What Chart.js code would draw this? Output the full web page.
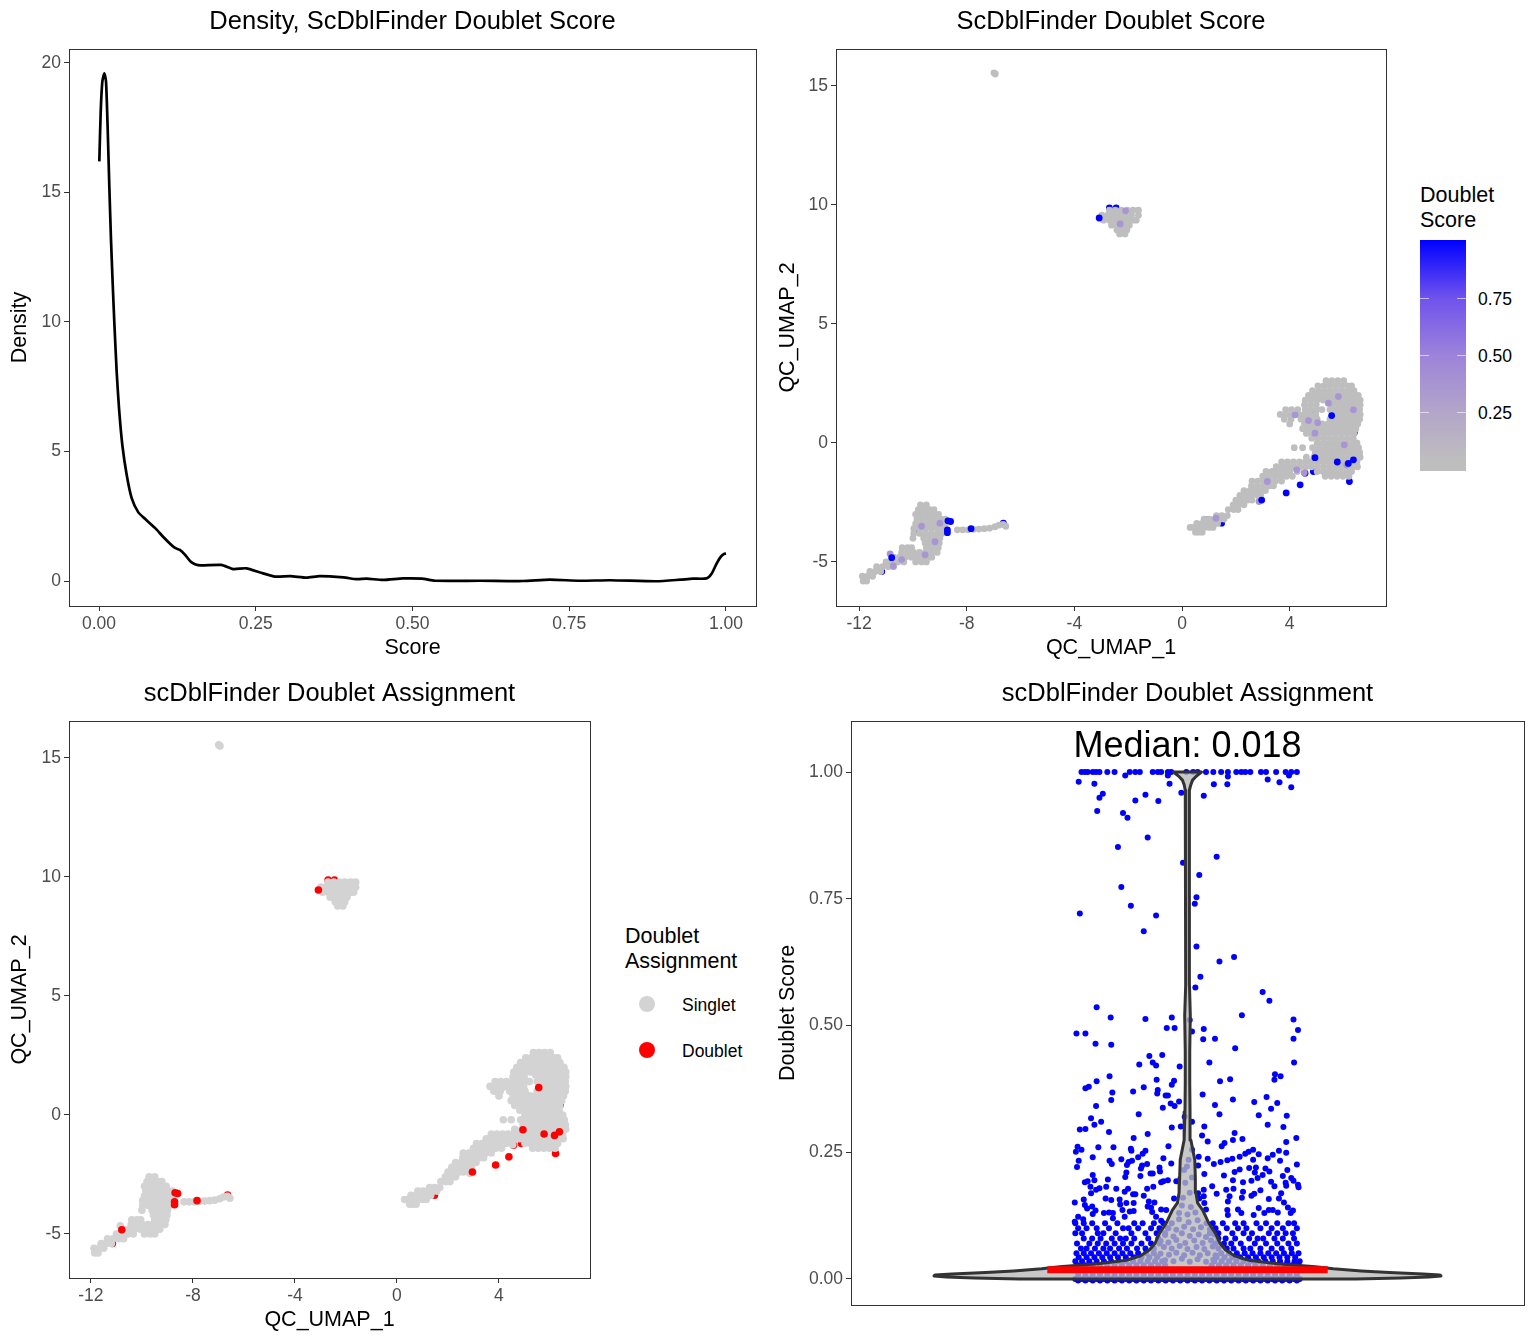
<!DOCTYPE html>
<html>
<head>
<meta charset="utf-8">
<script src="https://cdn.jsdelivr.net/npm/chart.js@4"></script>
<style>
  body { margin: 0; background: #fff; font-family: "Liberation Sans", Arial, sans-serif; }
  #page { position: relative; width: 1536px; height: 1344px; overflow: hidden; }
  canvas { position: absolute; }
  .txt { position: absolute; color: #000; white-space: nowrap; }
  .tickmark { position: absolute; height: 1px; width: 9px; background: rgba(255,255,255,0.6); }
</style>
</head>
<body>
<div id="page">
  <canvas id="c1" style="left:0;top:0"></canvas>
  <canvas id="c2" style="left:768px;top:0"></canvas>
  <canvas id="c3" style="left:0;top:672px"></canvas>
  <canvas id="c4" style="left:768px;top:672px"></canvas>

  <div class="txt" style="left:1420px;top:183px;font-size:21.5px;line-height:24.5px">Doublet<br>Score</div>
  <div style="position:absolute;left:1420px;top:240px;width:46px;height:231px;background:linear-gradient(to top,#bebebe 0%,#bebebe 4%,#b3a6c9 25%,#9d83da 50%,#6f52ec 75%,#0000ff 100%)"></div>
  <div class="tickmark" style="left:1420px;top:298px"></div><div class="tickmark" style="left:1457px;top:298px"></div>
  <div class="tickmark" style="left:1420px;top:355px"></div><div class="tickmark" style="left:1457px;top:355px"></div>
  <div class="tickmark" style="left:1420px;top:412px"></div><div class="tickmark" style="left:1457px;top:412px"></div>
  <div class="txt" style="left:1478px;top:289px;font-size:17.5px">0.75</div>
  <div class="txt" style="left:1478px;top:346px;font-size:17.5px">0.50</div>
  <div class="txt" style="left:1478px;top:403px;font-size:17.5px">0.25</div>

  <div class="txt" style="left:625px;top:924px;font-size:21.5px;line-height:24.5px">Doublet<br>Assignment</div>
  <div style="position:absolute;left:639px;top:996px;width:16px;height:16px;border-radius:50%;background:#d3d3d3"></div>
  <div style="position:absolute;left:639px;top:1042px;width:16px;height:16px;border-radius:50%;background:#ff0000"></div>
  <div class="txt" style="left:682px;top:995px;font-size:17.5px">Singlet</div>
  <div class="txt" style="left:682px;top:1041px;font-size:17.5px">Doublet</div>
</div>

<script>
// density panel
const densityScore = [0.0005,0.0027,0.0053,0.0085,0.0112,0.0138,0.0165,0.0191,0.0218,0.0244,0.0282,0.0319,0.0372,0.0442,0.0521,0.0627,0.0734,0.0893,0.1026,0.1159,0.122,0.129,0.137,0.146,0.153,0.162,0.195,0.214,0.235,0.257,0.281,0.305,0.331,0.352,0.39,0.411,0.427,0.453,0.485,0.515,0.536,0.608,0.676,0.719,0.767,0.815,0.889,0.927,0.947,0.969,0.977,0.985,0.9915,0.997,1.0];
const densityValue = [16.2,18.1,19.28,19.6,19.28,17.5,15.2,13.2,11.5,10,8.07,6.68,5.25,4.09,3.2,2.65,2.4,2.05,1.7,1.38,1.27,1.2,1.02,0.75,0.65,0.6,0.62,0.46,0.49,0.33,0.17,0.19,0.13,0.19,0.14,0.07,0.09,0.04,0.1,0.09,0.01,0.01,0,0.05,0.01,0.03,-0.01,0.05,0.09,0.1,0.28,0.67,0.93,1.05,1.06];
const densityXTicks = [0,0.25,0.5,0.75,1];
const densityYTicks = [0,5,10,15,20];

// umap cells, row by row
const singletRowY = [2.62,2.4,2.2,2,1.8,1.6,1.4,1.2,1,0.8,0.6,0.4,0.2,0,-0.2,-0.4,-0.6,-0.8,-1,-1.2,-1.4,-1.6,-1.8,-2,-2.2,-2.4,-2.6,-2.8,-3.05,-3.2,-3.38,-3.55,-3.75];
const singletRowX = [
  [5.35,5.57,5.79,6.01],
  [5.05,5.27,5.49,5.71,5.93,6.15,6.3],
  [4.85,5.07,5.29,5.51,5.73,5.95,6.17,6.39],
  [4.7,4.92,5.14,5.36,5.58,5.8,6.02,6.24,6.46,6.55],
  [4.58,4.8,5.02,5.24,5.46,5.68,5.9,6.12,6.34,6.56,6.62],
  [4.55,4.77,4.99,5.55,5.77,5.99,6.21,6.43,6.62],
  [3.85,4.07,4.3,4.58,4.8,5.02,5.2,5.5,5.72,5.94,6.16,6.38,6.6],
  [3.65,3.87,4.09,4.31,4.53,4.75,4.97,5.6,5.82,6.04,6.26,6.48,6.62],
  [3.8,4.05,4.42,4.64,4.86,5.02,5.5,5.72,5.94,6.16,6.38,6.6],
  [4,4.55,4.77,4.99,5.21,5.43,5.65,5.87,6.09,6.31,6.53],
  [4.48,4.7,4.92,5.14,5.36,5.58,5.8,6.02,6.24,6.46],
  [4.62,4.84,5.06,5.28,5.5,5.72,5.94,6.16,6.38],
  [4.82,5.04,5.26,5.48,5.7,5.92,6.14,6.36],
  [5.02,5.24,5.46,5.68,5.9,6.12,6.34,6.5],
  [4.17,4.48,4.85,5.07,5.29,5.51,5.73,5.95,6.17,6.39,6.56],
  [4.95,5.17,5.39,5.61,5.83,6.05,6.27,6.49,6.6],
  [4.62,4.9,5.12,5.34,5.56,5.78,6,6.22,6.44,6.62],
  [3.7,3.92,4.14,4.36,4.58,4.8,5.02,5.24,5.46,5.68,5.9,6.12,6.34,6.5],
  [3.5,3.72,3.94,4.16,4.38,4.6,4.82,5.04,5.26,5.48,5.7,5.92,6.14,6.36,6.52],
  [3.12,3.34,3.56,3.78,4,4.28,5.02,5.24,5.46,5.68,5.9,6.12,6.3],
  [3,3.22,3.44,3.66,3.88,4.1,5.32,5.54,5.76,5.98,6.2],
  [2.6,2.82,3.04,3.26,3.48,3.7],
  [2.58,2.8,3.02,3.24,3.4],
  [2.3,2.52,2.74,2.96,3.1],
  [2.15,2.37,2.59,2.81,2.92],
  [2,2.22,2.44,2.6],
  [1.9,2.1,2.3],
  [1.72,1.92,2.08],
  [1.28,1.48,1.68],
  [0.82,1.02,1.22,1.42,1.56],
  [0.55,0.75,0.95,1.15,1.32],
  [0.3,0.42,0.62,0.82,1,1.15],
  [0.5,0.62,0.75]
];
const leftRowY = [-2.6,-2.8,-3,-3.2,-3.4,-3.6,-3.8,-4,-4.2,-4.4,-4.6,-4.8,-5,-5.2,-5.4,-5.6,-5.8];
const leftRowX = [
  [-9.72,-9.5],
  [-9.8,-9.6,-9.38,-9.22],
  [-9.9,-9.68,-9.46,-9.24,-9.05],
  [-9.85,-9.63,-9.41,-9.19,-8.97,-8.8],
  [-9.9,-9.68,-9.46,-9.24,-9.02,-8.8],
  [-9.97,-9.75,-9.53,-9.31,-9.09,-8.85],
  [-9.97,-9.75,-9.53,-9.31,-9.09,-8.92],
  [-10,-9.6,-9.38,-9.16,-9],
  [-9.55,-9.33,-9.11,-9.02],
  [-10.4,-10.2,-10.05,-9.5,-9.28,-9.06],
  [-10.42,-10.2,-9.98,-9.76,-9.54,-9.32,-9.1],
  [-10.72,-10.5,-10.28,-10.06,-9.84,-9.62,-9.4,-9.3],
  [-11,-10.78,-10.56,-10.34,-9.9,-9.68,-9.5],
  [-11.35,-11.13,-10.91,-10.72],
  [-11.6,-11.4,-11.2],
  [-11.88,-11.68,-11.5],
  [-11.85,-11.72]
];
const upperRowY = [9.78,9.57,9.36,9.15,8.95,8.78];
const upperRowX = [
  [-2.7,-2.48,-2.26,-2.04,-1.82,-1.62],
  [-2.98,-2.76,-2.54,-2.32,-2.1,-1.88,-1.62],
  [-2.92,-2.7,-2.48,-2.26,-2.04,-1.82,-1.7],
  [-2.62,-2.4,-2.18,-1.96],
  [-2.42,-2.22,-2.05],
  [-2.32,-2.12]
];
const strayCells = [[-6.99,15.55],[-6.94,15.5],[-8.35,-3.65],[-8.15,-3.65],[-7.95,-3.65],[-7.75,-3.63],[-7.55,-3.62],[-7.35,-3.6],[-7.15,-3.58],[-6.95,-3.52],[-6.8,-3.45],[-6.65,-3.42],[-6.55,-3.5]];
const midScoreCells = [[5.81,1.95],[4.26,-1.13],[4.54,-1.25],[4.7,0.94],[4.94,0.41],[5.04,0.85],[3.17,-1.62],[2.86,-2.46],[6.03,-0.08],[6.12,-0.92],[1.26,-3.16],[6.37,1.39],[4.2,1.18],[5.44,1.67],[-9.55,-4.7],[-9.18,-4.15],[-9.68,-3.5],[-10.85,-4.66],[-10.42,-4.9],[-10.73,-5.17],[-9,-3.37],[-2.3,9.2],[-2.1,9.75]];
const highUnderCells = [[6.4,0.43],[4.57,-1.27],[4.39,-1.76],[3.87,-2.1],[0.94,-3.23],[1.47,-3.37],[6.22,-1.62],[4.88,-1.2],[5.87,0.76],[4.88,1.25],[5.77,-0.27],[-9.8,-3.72],[-11.16,-5.4],[-6.64,-3.37],[-2.7,9.87],[-2.45,9.87]];
const highTopCells = [[5.56,1.15],[4.94,-0.62],[5.77,-0.8],[6.18,-0.86],[2.96,-2.4],[6.37,-0.71],[-8.7,-3.27],[-8.6,-3.3],[-8.72,-3.77],[-8.72,-3.65],[-10.79,-4.82],[-7.84,-3.6],[-3.08,9.45]];
const umapXTicks = [-12,-8,-4,0,4];
const umapYTicks = [-5,0,5,10,15];

// violin panel
const scoreTicks = [0,0.25,0.5,0.75,1];
const topRowJitter = [0.811,0.817,0.822,0.831,0.837,0.843,0.857,0.87,0.897,0.907,0.915,0.938,0.947,0.953,0.965,0.971,0.998,1.01,1.018,1.033,1.046,1.06,1.072,1.087,1.096,1.103,1.112,1.131,1.14,1.158,1.175,1.185,1.195];
const sparseScores = [[0.806,0.981],[0.834,0.977],[0.889,0.993],[0.965,0.993],[0.968,0.977],[1.072,0.991],[1.047,0.976],[1.071,0.976],[1.143,0.985],[1.164,0.98],[1.181,0.993],[1.185,0.97],[0.989,0.959],[1.029,0.953],[0.849,0.957],[0.843,0.949],[0.907,0.944],[0.925,0.955],[0.948,0.943],[0.839,0.923],[0.885,0.919],[0.893,0.91],[0.929,0.871],[0.876,0.852],[1.052,0.833],[0.992,0.821],[1.021,0.797],[0.882,0.773],[1.016,0.753],[1.013,0.74],[0.899,0.736],[0.808,0.721],[0.944,0.717],[0.922,0.686],[1.016,0.656],[1.083,0.635],[1.057,0.626],[1.023,0.596],[1.014,0.575],[1.134,0.566],[1.146,0.549],[0.838,0.536],[0.863,0.516],[0.925,0.513],[0.972,0.516],[1.004,0.511],[1.097,0.52],[1.189,0.512],[0.963,0.495],[0.977,0.495],[1.008,0.488],[1.029,0.493],[1.197,0.491],[0.802,0.484],[0.818,0.484],[1.028,0.473],[1.049,0.474],[1.189,0.474],[0.836,0.464],[0.864,0.462],[1.085,0.455],
[0.932,0.44],[0.955,0.442],[0.938,0.427],[0.944,0.421],[0.914,0.423],[0.986,0.419],[1.039,0.427],[1.19,0.427],[1.156,0.404],[1.166,0.4],[1.155,0.393],[0.861,0.4],[0.838,0.39],[0.945,0.393],[0.976,0.391],[0.972,0.383],[1.058,0.39],[1.076,0.394],[0.824,0.379],[0.818,0.376],[0.922,0.378],[0.903,0.37],[0.866,0.368],[0.947,0.373],[0.946,0.366],[0.961,0.362],[0.965,0.362],[1.027,0.364],[1.141,0.359],[0.864,0.353],[1.081,0.354],[1.119,0.349],[0.985,0.35],[0.97,0.346],[0.977,0.341],[1.049,0.343],[1.16,0.347],[1.149,0.336],[0.837,0.341],[0.956,0.338],[0.913,0.325],[1.057,0.325],[1.127,0.323],[1.177,0.322],[0.995,0.32],[0.828,0.317],[0.834,0.304],[0.846,0.31],[1.008,0.31],[1.143,0.304],[1.171,0.3],[0.808,0.295],[0.818,0.296],[0.972,0.299],[0.988,0.301],[1.03,0.301],[0.86,0.29],[1.084,0.288],[0.929,0.286],[1.026,0.283],[0.904,0.278],[1.098,0.276],[1.081,0.274],[1.194,0.278],[1.036,0.271],[1.176,0.27],[1.066,0.268],[1.061,0.262],[0.841,0.26],[0.868,0.26],[0.966,0.262],[0.804,0.261],[0.811,0.255],[0.801,0.251],[0.899,0.257],[0.925,0.253],[0.9,0.253],[1.008,0.255],[1.117,0.255],[1.163,0.253],[1.109,0.251],[1.176,0.249],[0.92,0.247],[1.103,0.247],[1.127,0.246],[1.152,0.245],[1.093,0.241],[0.912,0.24],[0.831,0.24],[1.02,0.241],[1.143,0.238],[0.882,0.236],[0.957,0.238],[1.036,0.237],[1.08,0.237],[1.071,0.234],[0.806,0.233],[0.861,0.233],[0.901,0.233],[0.895,0.231],[1.059,0.231],[1.047,0.227],[1.117,0.235],[1.165,0.233],[0.971,0.228],[0.865,0.227],[0.892,0.225],[0.803,0.221],[0.919,0.224],[0.928,0.227],[1.019,0.224],[1.195,0.226],[0.917,0.218],[0.95,0.22],[1.11,0.219],[1.122,0.22],[0.999,0.222],[1.093,0.216],[1.139,0.218],[1.084,0.211],[1.178,0.215],[0.951,0.212],[0.891,0.21],[0.934,0.208],[0.938,0.208],[1.12,0.21],[1.146,0.212],[1.03,0.207],[0.916,0.203],[0.889,0.201],[1.065,0.204],[0.831,0.205],[1.134,0.205],[1.17,0.203],[1.125,0.199],[0.858,0.196],[1.081,0.195],[0.834,0.195],[0.822,0.193],[0.817,0.191],[0.965,0.195],[0.957,0.193],[0.953,0.191],[0.98,0.193],[1.099,0.191],[1.114,0.194],[1.185,0.199],[1.149,0.192],[1.189,0.194],[1.175,0.19],[1.176,0.184],[0.827,0.182],[1.155,0.183],[0.855,0.182],[0.939,0.182],[1.044,0.183],[1.197,0.186],[0.928,0.178],[0.894,0.178],[0.873,0.178],[1.082,0.178],[1.069,0.176],[0.843,0.179],[0.837,0.176],[1.13,0.175],[1.198,0.181],[1.029,0.176],[0.828,0.169],[0.888,0.172],[1.099,0.172],[1.019,0.169],[1.052,0.168],[1.119,0.168],[1.167,0.169],[0.903,0.167],[0.907,0.167],[1.114,0.164],[0.922,0.164],[1.075,0.163],[1.029,0.163],[1.021,0.159],[0.854,0.159],[0.864,0.156],[0.879,0.157],[1.097,0.16],[0.976,0.159],[1.163,0.159],[0.815,0.157],[1.072,0.153],[1.145,0.158],[0.799,0.151],[0.931,0.153],[0.941,0.151],[0.891,0.15],[0.904,0.15],[0.817,0.146],[0.88,0.147],[1.03,0.15],[1.172,0.151],[0.83,0.143],[0.929,0.143],[0.935,0.141],[1.127,0.14],[1.179,0.141],[0.821,0.139],[0.836,0.135],[0.953,0.137],[0.962,0.136],[1.033,0.137],[1.09,0.137],[1.071,0.136],[1.145,0.136],[1.152,0.136],[1.188,0.135],[0.884,0.136],[0.831,0.128],[0.851,0.13],[0.86,0.131],[0.867,0.13],[0.897,0.133],[0.904,0.134],[0.937,0.132],[1.072,0.126],[1.096,0.13],[1.118,0.126],[1.137,0.13],[1.161,0.131],[1.184,0.13],[0.805,0.123],[0.867,0.12],[0.888,0.123],[0.944,0.123],[0.814,0.118],[0.799,0.113]];
const denseRowScores = [0.11,0.1,0.09,0.08,0.07,0.06,0.051,0.043,0.035,0.027,0.018,0.009,0.0,-0.003];
const denseRowJitter = [
  [0.8,0.815,0.83,0.853,0.875,0.905,0.92,0.94,0.957,1.045,1.063,1.085,1.1,1.123,1.14,1.16,1.18,1.19],
  [0.805,0.82,0.838,0.86,0.885,0.895,0.912,0.935,0.95,0.965,1.05,1.07,1.09,1.105,1.13,1.15,1.17,1.195],
  [0.8,0.812,0.84,0.85,0.872,0.9,0.925,0.945,0.96,1.04,1.055,1.08,1.1,1.115,1.145,1.16,1.175,1.188],
  [0.815,0.83,0.845,0.865,0.88,0.89,0.905,0.93,0.948,1.055,1.068,1.085,1.11,1.125,1.135,1.155,1.17,1.19],
  [0.803,0.825,0.84,0.855,0.87,0.885,0.9,0.918,0.935,0.95,1.05,1.065,1.078,1.095,1.12,1.14,1.16,1.18,1.195],
  [0.81,0.82,0.835,0.85,0.862,0.878,0.892,0.91,0.925,0.94,1.055,1.07,1.082,1.1,1.112,1.13,1.15,1.168,1.185],
  [0.802,0.815,0.828,0.842,0.856,0.87,0.884,0.898,0.912,0.926,0.94,1.06,1.074,1.088,1.102,1.116,1.13,1.144,1.158,1.172,1.186,1.198],
  [0.806,0.82,0.834,0.848,0.862,0.876,0.89,0.904,0.918,0.932,0.946,1.052,1.066,1.08,1.094,1.108,1.122,1.136,1.15,1.164,1.178,1.192],
  [0.8,0.812,0.825,0.838,0.851,0.864,0.877,0.89,0.903,0.916,0.929,0.942,0.955,1.048,1.061,1.074,1.087,1.1,1.113,1.126,1.139,1.152,1.165,1.178,1.191,1.2],
  [0.805,0.818,0.831,0.844,0.857,0.87,0.883,0.896,0.909,0.922,0.935,0.948,0.96,1.043,1.056,1.069,1.082,1.095,1.108,1.121,1.134,1.147,1.16,1.173,1.186,1.198],
  [0.8,0.812,0.825,0.838,0.851,0.864,0.877,0.89,0.903,0.916,0.929,0.942,0.955,0.968,0.981,0.994,1.007,1.02,1.033,1.046,1.059,1.072,1.085,1.098,1.111,1.124,1.137,1.15,1.163,1.176,1.189,1.2],
  [0.805,0.818,0.831,0.844,0.857,0.87,0.883,0.896,0.909,0.922,0.935,0.948,0.961,0.974,0.987,1.0,1.013,1.026,1.039,1.052,1.065,1.078,1.091,1.104,1.117,1.13,1.143,1.156,1.169,1.182,1.195],
  [0.8,0.812,0.825,0.838,0.851,0.864,0.877,0.89,0.903,0.916,0.929,0.942,0.955,0.968,0.981,0.994,1.007,1.02,1.033,1.046,1.059,1.072,1.085,1.098,1.111,1.124,1.137,1.15,1.163,1.176,1.189,1.2],
  [0.805,0.818,0.831,0.844,0.857,0.87,0.883,0.896,0.909,0.922,0.935,0.948,0.961,0.974,0.987,1.0,1.013,1.026,1.039,1.052,1.065,1.078,1.091,1.104,1.117,1.13,1.143,1.156,1.169,1.182,1.195]
];
const coreScores = [[0.953,0.115],[0.972,0.11],[0.985,0.118],[1.002,0.112],[1.018,0.116],[1.034,0.11],[0.966,0.1],[0.98,0.097],[0.994,0.103],[1.01,0.098],[1.024,0.102],[1.04,0.098],[0.96,0.087],[0.975,0.084],[0.99,0.09],[1.004,0.085],[1.02,0.088],[1.033,0.083],[1.048,0.088],[0.952,0.075],[0.966,0.072],[0.98,0.077],[0.996,0.071],[1.012,0.076],[1.027,0.071],[1.042,0.076],[0.958,0.063],[0.972,0.06],[0.986,0.065],[1.0,0.059],[1.016,0.063],[1.03,0.059],[1.045,0.064],[0.952,0.05],[0.967,0.048],[0.98,0.052],[0.994,0.047],[1.009,0.052],[1.022,0.047],[1.036,0.051],[1.05,0.047],[0.96,0.037],[0.975,0.035],[0.99,0.04],[1.004,0.034],[1.018,0.039],[1.033,0.034],[1.046,0.038],[0.985,0.13],[1.0,0.127],[1.014,0.131],[0.99,0.145],[1.006,0.142],[0.992,0.16],[1.004,0.17],[0.996,0.19],[1.008,0.2],[0.994,0.215],[1.002,0.235]];
const violinScore = [0,0.002,0.004,0.006,0.008,0.01,0.013,0.016,0.02,0.024,0.03,0.037,0.045,0.057,0.07,0.09,0.11,0.136,0.15,0.17,0.2,0.235,0.274,0.33,0.386,0.45,0.52,0.58,0.75,0.9,0.95,0.964,0.975,0.984,0.992,1];
const violinHalfWidth = [0.3,0.38,0.43,0.452,0.45,0.42,0.36,0.31,0.26,0.228,0.16,0.109,0.085,0.068,0.058,0.05,0.038,0.027,0.018,0.015,0.014,0.013,0.006,0.0045,0.004,0.004,0.005,0.0035,0.003,0.003,0.0035,0.004,0.006,0.009,0.016,0.025];
const medianScore = 0.018;
const medianLabel = "Median: 0.018";

function toPoints(xs, ys) {
  return xs.map(function (x, i) { return { x: x, y: ys[i] }; });
}
function rowsToPoints(rowYs, rowXs) {
  const out = [];
  rowYs.forEach(function (y, i) {
    rowXs[i].forEach(function (x) { out.push({ x: x, y: y }); });
  });
  return out;
}
function pairsToPoints(pairs) {
  return pairs.map(function (p) { return { x: p[0], y: p[1] }; });
}

Chart.defaults.font.family = '"Liberation Sans", Arial, sans-serif';
Chart.defaults.animation = false;
Chart.defaults.devicePixelRatio = 1;

// ggplot style box round the panel
const panelBorder = {
  id: "panelBorder",
  afterDraw: function (chart) {
    const a = chart.chartArea;
    const ctx = chart.ctx;
    ctx.save();
    ctx.strokeStyle = "#333333";
    ctx.lineWidth = 1;
    ctx.strokeRect(Math.round(a.left) + 0.5, Math.round(a.top) + 0.5, a.right - a.left, a.bottom - a.top);
    ctx.restore();
  },
};

function axis(min, max, ticks, decimals, boxSize, titleText, titlePad) {
  return {
    type: "linear",
    min: min,
    max: max,
    afterBuildTicks: function (scale) {
      scale.ticks = ticks.map(function (v) { return { value: v }; });
    },
    afterFit: function (scale) {
      if (scale.isHorizontal()) scale.height = boxSize;
      else scale.width = boxSize;
    },
    grid: { drawOnChartArea: false, color: "#333333", tickLength: 5, tickWidth: 1 },
    border: { display: false },
    ticks: {
      color: "#4d4d4d",
      font: { size: 17.5 },
      padding: 3,
      autoSkip: false,
      maxRotation: 0,
      callback: function (v) { return v.toFixed(decimals); },
    },
    title: {
      display: titleText !== "",
      text: titleText,
      color: "#000000",
      font: { size: 21.5, lineHeight: 1.2 },
      padding: titlePad,
    },
  };
}

function panelOptions(titleText, xAxis, yAxis, rightPad, bottomPad) {
  return {
    responsive: false,
    layout: { padding: { right: rightPad, bottom: bottomPad } },
    plugins: {
      legend: { display: false },
      tooltip: { enabled: false },
      title: {
        display: true,
        text: titleText,
        fullSize: false,
        color: "#000000",
        font: { size: 25.5, weight: "normal", lineHeight: 1.2 },
        padding: { top: 7, bottom: 11.4 },
      },
    },
    scales: { x: xAxis, y: yAxis },
  };
}

function makeChart(id, w, h, datasets, options, plugins) {
  const el = document.getElementById(id);
  el.width = w;
  el.height = h;
  el.style.width = w + "px";
  el.style.height = h + "px";
  return new Chart(el, {
    type: "scatter",
    data: { datasets: datasets },
    options: options,
    plugins: [panelBorder].concat(plugins || []),
  });
}

function dots(points, color, radius, order) {
  return {
    data: points,
    backgroundColor: color,
    borderWidth: 0,
    pointRadius: radius,
    pointHoverRadius: radius,
    order: order,
  };
}

// panel 1
makeChart("c1", 770, 662, [
  {
    data: toPoints(densityScore, densityValue),
    showLine: true,
    borderColor: "#000000",
    borderWidth: 2.7,
    pointRadius: 0,
    tension: 0.2,
  },
], panelOptions(
  "Density, ScDblFinder Doublet Score",
  axis(-0.04785, 1.04785, densityXTicks, 2, 56, "Score", { top: 0, bottom: 1 }),
  axis(-0.965, 20.54, densityYTicks, 0, 69, "Density", { top: 7, bottom: 0 }),
  14, 0
));

const singletCells = rowsToPoints(singletRowY, singletRowX)
  .concat(rowsToPoints(leftRowY, leftRowX), rowsToPoints(upperRowY, upperRowX), pairsToPoints(strayCells));

// panel 2
makeChart("c2", 630, 662, [
  dots(pairsToPoints(highTopCells), "#0000ff", 3.4, 1),
  dots(pairsToPoints(midScoreCells), "#a995d3", 3.4, 2),
  dots(singletCells, "#bebebe", 3.4, 3),
  dots(pairsToPoints(highUnderCells), "#0000ff", 3.4, 4),
], panelOptions(
  "ScDblFinder Doublet Score",
  axis(-12.86, 7.58, umapXTicks, 0, 56, "QC_UMAP_1", { top: 0, bottom: 1 }),
  axis(-6.85, 16.55, umapYTicks, 0, 68, "QC_UMAP_2", { top: 7, bottom: 0 }),
  12, 0
));

// panel 3
makeChart("c3", 600, 662, [
  dots(pairsToPoints(highTopCells), "#ff0000", 3.8, 1),
  dots(singletCells.concat(pairsToPoints(midScoreCells)), "#d3d3d3", 3.8, 2),
  dots(pairsToPoints(highUnderCells), "#ff0000", 3.8, 3),
], panelOptions(
  "scDblFinder Doublet Assignment",
  axis(-12.86, 7.57, umapXTicks, 0, 56, "QC_UMAP_1", { top: 0, bottom: 1 }),
  axis(-6.85, 16.55, umapYTicks, 0, 69, "QC_UMAP_2", { top: 7, bottom: 0 }),
  10, 0
));

// panel 4
const medianText = {
  id: "medianText",
  afterDatasetsDraw: function (chart) {
    const ctx = chart.ctx;
    ctx.save();
    ctx.fillStyle = "#000000";
    ctx.font = '36px "Liberation Sans", Arial, sans-serif';
    ctx.textAlign = "center";
    ctx.textBaseline = "middle";
    ctx.fillText(medianLabel, chart.scales.x.getPixelForValue(1), chart.scales.y.getPixelForValue(1.05));
    ctx.restore();
  },
};

const allScores = topRowJitter.map(function (x) { return { x: x, y: 1 }; })
  .concat(pairsToPoints(sparseScores), rowsToPoints(denseRowScores, denseRowJitter), pairsToPoints(coreScores));

const violinRight = violinScore.map(function (y, i) { return { x: 1 + violinHalfWidth[i], y: y }; });
const violinLeft = violinScore.map(function (y, i) { return { x: 1 - violinHalfWidth[i], y: y }; }).reverse();
const violinOutline = violinRight.concat(violinLeft, [violinRight[0]]);

const xAxis4 = axis(0.4, 1.6, [], 2, 0, "", 0);
xAxis4.display = false;

makeChart("c4", 768, 672, [
  {
    data: [{ x: 0.75, y: medianScore }, { x: 1.25, y: medianScore }],
    showLine: true,
    borderColor: "#ff0000",
    borderWidth: 7,
    pointRadius: 0,
    order: 1,
  },
  {
    data: violinOutline,
    showLine: true,
    fill: "shape",
    backgroundColor: "rgba(185,185,185,0.78)",
    borderColor: "#333333",
    borderWidth: 3,
    borderJoinStyle: "round",
    pointRadius: 0,
    order: 2,
  },
  dots(allScores, "#0000ff", 3, 3),
], panelOptions(
  "scDblFinder Doublet Assignment",
  xAxis4,
  axis(-0.0513, 1.1006, scoreTicks, 2, 83, "Doublet Score", { top: 7, bottom: 0 }),
  12, 39
), [medianText]);
</script>
</body>
</html>
